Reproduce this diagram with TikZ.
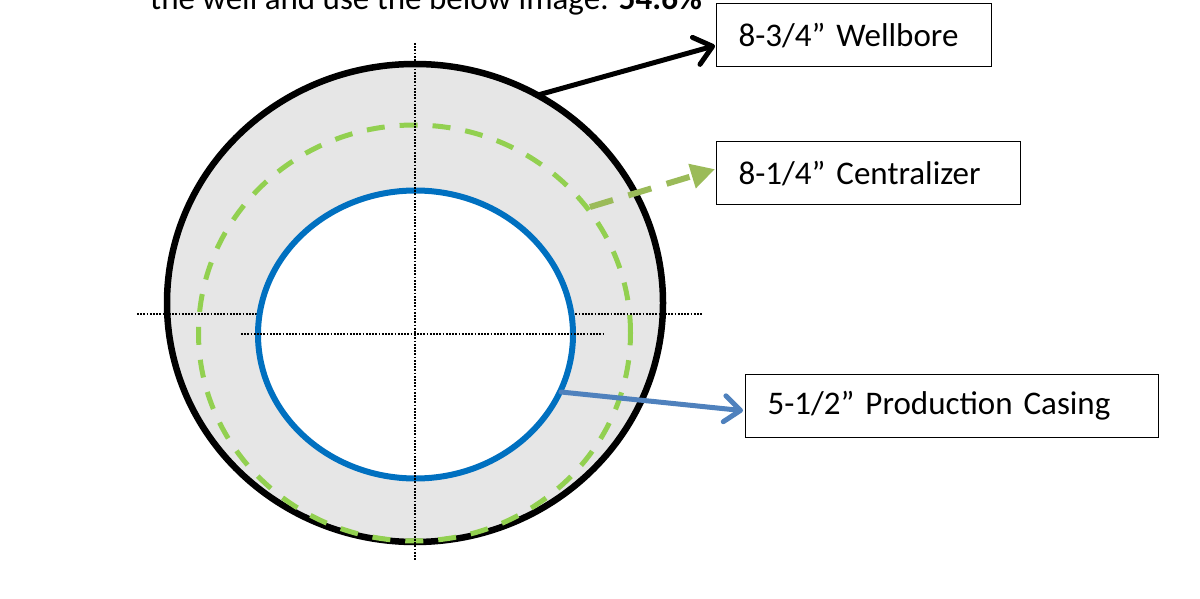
\documentclass[tikz,border=0pt]{standalone}
\usepackage{fontspec}
\setmainfont{Carlito}
\usetikzlibrary{arrows.meta,calc}
\definecolor{ringgray}{HTML}{E6E6E6}
\definecolor{casingblue}{HTML}{0070C0}
\definecolor{centgreen}{HTML}{92D050}
\definecolor{olivegreen}{HTML}{9BBB59}
\definecolor{steelblue}{HTML}{4F81BD}
\tikzset{
  dotline/.style={draw=black, line width=2.2pt, dash pattern=on 1.8pt off 1.4pt},
  lblbox/.style={draw=black, line width=1.3pt, fill=white, minimum height=63pt,
    inner xsep=22pt, inner ysep=0pt, anchor=north west, align=left,
    font=\fontsize{33}{40}\selectfont},
  barbtip/.style={-{Straight Barb[length=17pt, width=28pt, line cap=round, line join=round]}},
}
\begin{document}
\begin{tikzpicture}[x=1pt, y=-1pt]
\useasboundingbox (0,0) rectangle (1200,599);
\clip (0,0) rectangle (1200,599);
% cropped heading text
\node[anchor=base west, inner sep=0pt, font=\fontsize{33}{40}\selectfont] (head) at (150,10)
  {the well and use the below image: \textbf{54.6\%}};
% annulus fill
\fill[ringgray] (415,303) ellipse [x radius=248pt, y radius=239pt];
\draw[dotline] (137,314) -- (703,314);
\fill[white] (415.5,334.5) ellipse [x radius=157.5pt, y radius=144pt];
% wellbore
\draw[black, line width=6.5pt] (415,303) ellipse [x radius=248pt, y radius=239pt];
% centralizer
\draw[centgreen, line width=5pt, dash pattern=on 18pt off 15pt] (414.5,333) ellipse [x radius=216pt, y radius=208pt];
% casing
\draw[casingblue, line width=6pt] (415.5,334.5) ellipse [x radius=157.5pt, y radius=144pt];
% centre lines
\draw[dotline] (241,334) -- (603,334);
\draw[dotline] (415,43) -- (415,560);
% labels
\node[lblbox, text width=231pt] (wb) at (716,3) {8-3/4” Wellbore};
\node[lblbox, text width=260pt] (cz) at (716,141) {8-1/4” Centralizer};
\node[lblbox, text width=369pt] (pc) at (745,374) {5-1/2” Production Casing};
% connectors
\coordinate (wbs) at (538,95);
\coordinate (czs) at (590,207);
\coordinate (pcs) at (561,392);
\draw[black, line width=5pt, line cap=round, barbtip] (wbs) -- ([yshift=-10.5pt, xshift=-1pt]wb.west);
\draw[olivegreen, line width=6pt, dash pattern=on 24pt off 16pt,
  -{Triangle[length=24pt, width=24pt]}] (czs) -- ([yshift=4pt, xshift=-1pt]cz.west);
\draw[steelblue, line width=5pt, line cap=round,
  -{Straight Barb[length=16pt, width=26pt, line cap=round, line join=round]}] (pcs) -- ([yshift=-4.5pt, xshift=-2pt]pc.west);
\end{tikzpicture}
\end{document}
